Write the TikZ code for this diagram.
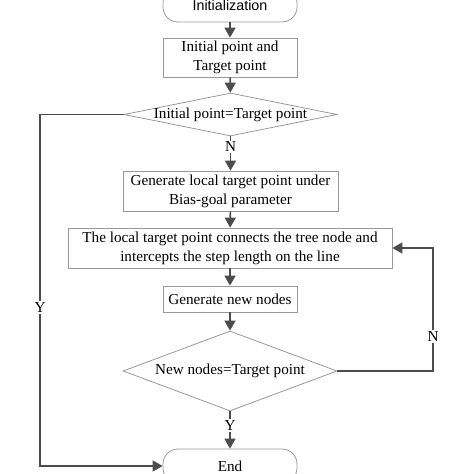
\documentclass[tikz,border=0pt]{standalone}
\usepackage{fontspec}
\setmainfont{Liberation Serif}
\newfontfamily\initfont{Liberation Sans}
\usetikzlibrary{shapes.geometric,arrows.meta}
\begin{document}
\begin{tikzpicture}[x=1pt,y=-1pt,
  every node/.style={font=\fontsize{15.2}{19}\selectfont},
  procbox/.style={draw=black!40,line width=0.8pt,rectangle,inner sep=0pt,align=center},
  termbox/.style={draw=black!40,line width=0.8pt,rectangle,rounded corners=15pt,inner sep=0pt,minimum width=134pt,minimum height=34pt},
  decbox/.style={draw=black!40,line width=0.8pt,diamond,inner sep=0pt},
  conn/.style={draw=black!70,line width=1.6pt,-{Triangle[length=10pt,width=11pt]}},
  lbl/.style={fill=white,inner sep=1.5pt}]
\useasboundingbox (0,0) rectangle (474,474);
\fill[white] (0,0) rectangle (474,474);
\node[termbox,font=\initfont\fontsize{14.3}{15}\selectfont] (init) at (230,5) {Initialization};
\node[procbox,minimum width=134pt,minimum height=39pt] (ip) at (230,57.5) {Initial point and\\Target point};
\node[decbox,minimum width=213pt,minimum height=43pt] (d1) at (230.5,114.5) {};
\node (d1t) at (d1.center) {Initial point=Target point};
\node[procbox,minimum width=215pt,minimum height=40pt] (gen) at (230.5,191) {Generate local target point under\\Bias-goal parameter};
\node[procbox,minimum width=324pt,minimum height=40pt] (lc) at (230,248) {The local target point connects the tree node and\\intercepts the step length on the line};
\node[procbox,minimum width=134pt,minimum height=26pt] (gn) at (230,299) {Generate new nodes};
\node[decbox,minimum width=214pt,minimum height=80pt] (d2) at (230,371) {};
\node (d2t) at (d2.center) {New nodes=Target point};
\node[termbox] (end) at (230,466) {End};
\coordinate (lc1) at (40,114.5);
\coordinate (rc1) at (433,371);
\draw[conn] (init) -- (ip);
\draw[conn] (ip) -- (d1);
\draw[conn] (d1) -- node[lbl,pos=0.31] (nlab) {N} (gen);
\draw[conn] (gen) -- (lc);
\draw[conn] (lc) -- (gn);
\draw[conn] (gn) -- (d2);
\draw[conn] (d2) -- node[lbl,pos=0.37] (ylab) {Y} (end);
\draw[conn] (d1.west) -- (lc1) |- node[lbl,pos=0.275] (ylab2) {Y} (end.west);
\draw[conn] (d2.east) -- (rc1) |- node[lbl,pos=0.142] (nlab2) {N} (lc.east);
\end{tikzpicture}
\end{document}
